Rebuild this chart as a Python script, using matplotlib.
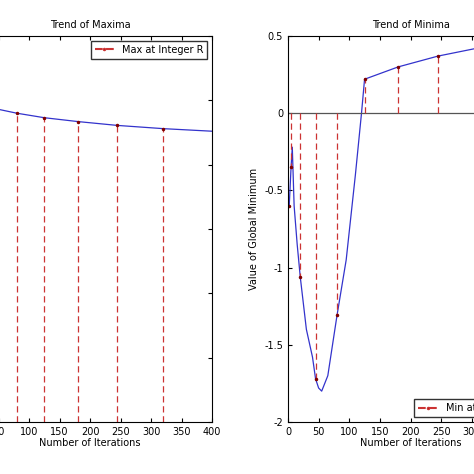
import numpy as np
import matplotlib.pyplot as plt

# left panel: trend of maxima (partly off canvas)
max_x = [0, 20, 45, 80, 125, 180, 245, 320, 400]
max_y = [4.98, 4.93, 4.87, 4.80, 4.73, 4.67, 4.61, 4.56, 4.52]
max_r = [80, 125, 180, 245, 320]
max_r_y = [4.80, 4.73, 4.67, 4.61, 4.56]

# right panel: trend of minima
min_x = [2, 5, 7, 10, 15, 20, 30, 40, 45, 50, 55, 65, 80, 95, 110, 120, 125, 180, 245, 320, 400]
min_y = [-0.6, -0.35, -0.22, -0.6, -0.85, -1.06, -1.4, -1.58, -1.72, -1.78, -1.8, -1.7, -1.31,
         -0.95, -0.4, 0.0, 0.22, 0.3, 0.37, 0.43, 0.48]
min_r = [5, 20, 45, 80, 125, 180, 245, 320]
min_r_y = [-0.35, -1.06, -1.72, -1.31, 0.22, 0.3, 0.37, 0.43]

plt.rcParams['font.size'] = 7
fig = plt.figure(figsize=(4.74, 4.74), dpi=100)
W = H = 474.0

def style(ax):
    ax.tick_params(direction='in', top=True, right=True, length=3, labelsize=7)

ax1 = fig.add_axes([-32 / W, 52 / H, 244 / W, 386 / H])
ax1.plot(max_x, max_y, color='#3333cc', lw=0.9)
ax1.vlines(max_r, 0, max_r_y, colors='#cc3333', linestyles=(0, (5, 3)), lw=0.9)
ax1.plot(max_r, max_r_y, '.', color='#800000', ms=3)
ax1.plot([], [], '--', color='#cc3333', marker='.', markerfacecolor='#800000', ms=3, label='Max at Integer R')
ax1.set_xlim(0, 400)
ax1.set_ylim(0, 6)
ax1.set_yticklabels([])
ax1.set_xticks(range(0, 401, 50))
ax1.set_xlabel('Number of Iterations', labelpad=1)
ax1.set_title('Trend of Maxima', fontsize=7)
ax1.legend(loc='upper right', fancybox=False, edgecolor='black', fontsize=7)
style(ax1)

ax2 = fig.add_axes([288 / W, 52 / H, 245 / W, 386 / H])
ax2.plot(min_x, min_y, color='#3333cc', lw=0.9)
ax2.axhline(0, color='#555555', lw=0.9)
ax2.vlines(min_r, 0, min_r_y, colors='#cc3333', linestyles=(0, (5, 3)), lw=0.9)
ax2.plot(min_r, min_r_y, '.', color='#800000', ms=3)
ax2.plot([2], [-0.6], '.', color='#800000', ms=3)
ax2.plot([], [], '--', color='#cc3333', marker='.', markerfacecolor='#800000', ms=3, label='Min at Integer R')
ax2.set_xlim(0, 400)
ax2.set_ylim(-2, 0.5)
ax2.set_xticks(range(0, 401, 50))
ax2.set_yticks([-2, -1.5, -1, -0.5, 0, 0.5])
ax2.set_yticklabels(['-2', '-1.5', '-1', '-0.5', '0', '0.5'])
ax2.set_xlabel('Number of Iterations', labelpad=1)
ax2.set_ylabel('Value of Global Minimum')
ax2.set_title('Trend of Minima', fontsize=7)
ax2.legend(loc='lower right', fancybox=False, edgecolor='black', fontsize=7)
style(ax2)

fig.savefig('out.png', dpi=100)
